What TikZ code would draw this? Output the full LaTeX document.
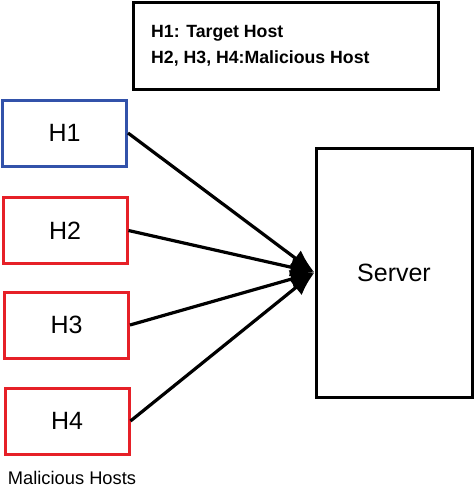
\documentclass[tikz,border=0pt]{standalone}
\usepackage{fontspec}
\setmainfont{Liberation Sans}
\usetikzlibrary{arrows.meta}
\definecolor{hblue}{RGB}{50,82,170}
\definecolor{hred}{RGB}{230,32,40}
\begin{document}
\begin{tikzpicture}[x=1pt,y=-1pt,
  hostbox/.style={draw,line width=3pt,minimum width=124pt,minimum height=66pt,inner sep=0pt,font=\fontsize{25}{29}\selectfont},
  conn/.style={line width=3.2pt,-{Latex[length=24pt,width=19pt]}},
  blackbox/.style={draw,line width=3pt,inner sep=0pt},
  legtext/.style={anchor=base west,inner sep=0pt,font=\bfseries\fontsize{17.7}{21}\selectfont}]
\useasboundingbox (0,0) rectangle (474,488);
\node[hostbox,draw=hblue] (h1) at (64.5,133) {H1};
\node[hostbox,draw=hred] (h2) at (65,230.5) {H2};
\node[hostbox,draw=hred] (h3) at (66.5,325) {H3};
\node[hostbox,draw=hred] (h4) at (67,421) {H4};
\node[font=\fontsize{18.3}{21}\selectfont] (mal) at (72,478) {Malicious Hosts};
\node[blackbox,minimum width=305pt,minimum height=87pt] (legend) at (285.5,45.5) {};
\node[legtext] (l1) at (151,37) {H1: Target Host};
\node[legtext] (l2) at (151,63) {H2, H3, H4:Malicious Host};
\node[blackbox,minimum width=156pt,minimum height=249pt,font=\fontsize{25}{29}\selectfont] (server) at (394,272.5) {Server};
\foreach \h in {h1,h2,h3,h4}
  \draw[conn] (\h.east) -- (server.west);
\end{tikzpicture}
\end{document}
